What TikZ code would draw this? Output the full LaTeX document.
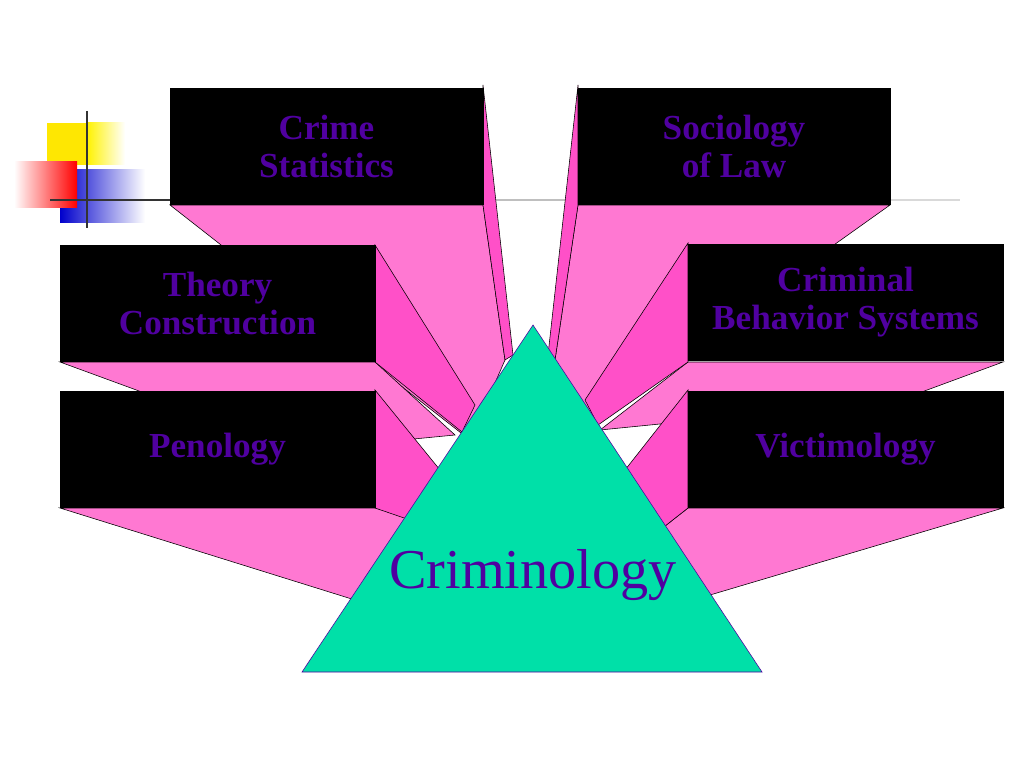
\documentclass[tikz,border=0pt]{standalone}
\usepackage{fontspec}
\setmainfont{Liberation Serif}
\definecolor{hotpink}{RGB}{255,80,200}
\definecolor{lightpink}{RGB}{255,120,210}
\definecolor{tealgreen}{RGB}{0,224,168}
\definecolor{labelpurple}{RGB}{80,0,160}
\tikzset{
  blackbox/.style={draw=black, fill=black, minimum width=7.8cm, minimum height=2.9cm, inner sep=0pt,
    text=labelpurple, font=\bfseries\fontsize{25}{27}\selectfont, align=center},
  sideface/.style={fill=hotpink, draw=black, thin},
  bottomface/.style={fill=lightpink, draw=black, thin},
}
\begin{document}
\begin{tikzpicture}[x=0.025cm, y=-0.025cm]
    \useasboundingbox (0,0) rectangle (1024,768);

    % decoration
    \fill[yellow!90!orange] (47,123) rectangle (87,165);
    \shade[left color=yellow!90!orange, right color=white] (87,123) rectangle (125,165);
    \shade[left color=blue!80!black, right color=white] (60,170) rectangle (145,222);
    \shade[left color=white, right color=red] (14,162) rectangle (77,207);
    \draw[line width=2pt, black!80] (87,111) -- (87,228);
    \draw[line width=2pt, black!80] (50,200) -- (170,200);
    \draw[line width=1.5pt, black!25] (483,200) -- (578,200);
    \draw[line width=1.5pt, black!15] (890,200) -- (960,200);

    % Crime Statistics
    \draw[bottomface] (170,205) -- (483,205) -- (505,360) -- (470,440) -- cycle;
    \draw[sideface] (483,85) -- (513,355) -- (505,360) -- (483,205) -- cycle;
    \node[blackbox, minimum width=7.83cm] (crime) at (326.5,146.5) {Crime\\Statistics};

    % Sociology of Law
    \draw[bottomface] (578,205) -- (890,205) -- (560,440) -- (555,360) -- cycle;
    \draw[sideface] (578,85) -- (548,355) -- (555,360) -- (578,205) -- cycle;
    \node[blackbox] (socio) at (734,146.5) {Sociology\\of Law};

    % Theory Construction
    \draw[bottomface] (60,362) -- (375,362) -- (455,435) -- (300,450) -- cycle;
    \draw[sideface] (375,245) -- (475,405) -- (462,432) -- (375,362) -- cycle;
    \node[blackbox, minimum width=7.88cm] (theory) at (217.5,303.5) {Theory\\Construction};

    % Criminal Behavior Systems
    \draw[bottomface] (688,362) -- (1003,362) -- (900,400) -- (600,430) -- cycle;
    \draw[sideface] (688,243) -- (585,400) -- (598,425) -- (688,362) -- cycle;
    \node[blackbox, minimum width=7.88cm] (crimbeh) at (845.5,302.5) {Criminal\\Behavior Systems};

    % Penology
    \draw[bottomface] (60,508) -- (375,508) -- (420,520) -- (355,600) -- cycle;
    \draw[sideface] (375,390) -- (440,470) -- (410,520) -- (375,508) -- cycle;
    \node[blackbox, minimum width=7.88cm] (penology) at (217.5,449) {Penology};

    % Victimology
    \draw[bottomface] (688,508) -- (1003,508) -- (710,595) -- (660,530) -- cycle;
    \draw[sideface] (688,390) -- (625,470) -- (660,530) -- (688,508) -- cycle;
    \node[blackbox, minimum width=7.88cm] (victim) at (845.5,449) {Victimology};

    % Criminology
    \draw[fill=tealgreen, draw=labelpurple] (533,325) -- (762,672) -- (302,672) -- cycle;
    \node[text=labelpurple, font=\fontsize{40}{42}\selectfont] (crim) at (533,575) {Criminology};
\end{tikzpicture}
\end{document}
